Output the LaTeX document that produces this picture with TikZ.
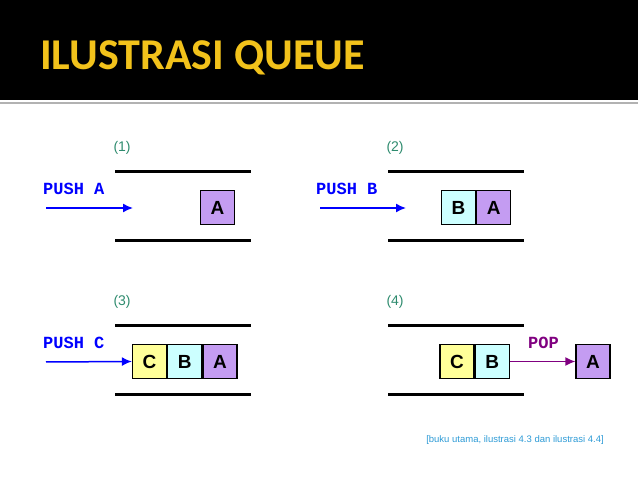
\documentclass[tikz,border=0pt]{standalone}
\usepackage{fontspec}
\setmainfont{Liberation Sans}
\setmonofont{Liberation Mono}
\newfontfamily\titlefont{Carlito}
\usetikzlibrary{positioning, arrows.meta}
\definecolor{titlegold}{HTML}{F2C21B}
\definecolor{stepgreen}{HTML}{2E8B6E}
\definecolor{cellpurple}{HTML}{C49CF2}
\definecolor{cellcyan}{HTML}{CCFFFF}
\definecolor{cellyellow}{HTML}{FFFF99}
\definecolor{poppurple}{HTML}{800080}
\definecolor{notecyan}{HTML}{2E9BD6}
\tikzset{
  cell/.style={draw=black, line width=1.3pt, minimum size=34pt, inner sep=0pt, font=\fontsize{19}{19}\selectfont\bfseries},
  rail/.style={line width=3pt},
  steplabel/.style={text=stepgreen, font=\fontsize{14}{14}\selectfont, anchor=west},
  cmd/.style={text=blue, font=\ttfamily\bfseries\fontsize{17}{17}\selectfont, anchor=west, inner sep=0pt},
  pusharrow/.style={blue, line width=1.5pt, -{Latex[length=10pt,width=9pt]}}
}
\begin{document}
\begin{tikzpicture}[x=1pt, y=-1pt]
  \useasboundingbox (0,0) rectangle (638,478);
  \fill[black] (0,0) rectangle (638,100);
  \fill[gray!60] (0,102) rectangle (638,104);
  \node[anchor=base west, text=titlegold, font=\titlefont\bfseries\fontsize{44}{44}\selectfont, inner sep=0pt] (title) at (40,70) {ILUSTRASI QUEUE};

  % (1)
  \node[steplabel] (l1) at (110,148) {(1)};
  \draw[rail] (115,172) -- (251,172);
  \draw[rail] (115,241) -- (251,241);
  \node[cmd] (cmd1) at (43,189) {PUSH A};
  \coordinate (s1) at (46,208);
  \coordinate (e1) at (133,208);
  \draw[pusharrow] (s1) -- (e1);
  \node[cell, fill=cellpurple] (a1) at (217.5,207.5) {A};

  % (2)
  \node[steplabel] (l2) at (383,148) {(2)};
  \draw[rail] (388,172) -- (524,172);
  \draw[rail] (388,241) -- (524,241);
  \node[cmd] (cmd2) at (316,189) {PUSH B};
  \coordinate (s2) at (320,208);
  \coordinate (e2) at (406,208);
  \draw[pusharrow] (s2) -- (e2);
  \node[cell, fill=cellcyan] (b2) at (458.5,207.5) {B};
  \node[cell, fill=cellpurple, right=0pt of b2] (a2) {A};

  % (3)
  \node[steplabel] (l3) at (110,302) {(3)};
  \draw[rail] (115,326) -- (251,326);
  \draw[rail] (115,395) -- (251,395);
  \node[cmd] (cmd3) at (43,343) {PUSH C};
  \coordinate (s3) at (46,362);
  \node[cell, fill=cellyellow] (c3) at (149.5,361.5) {C};
  \node[cell, fill=cellcyan, right=0pt of c3] (b3) {B};
  \node[cell, fill=cellpurple, right=0pt of b3] (a3) {A};
  \draw[pusharrow] (s3) -- (c3.west);

  % (4)
  \node[steplabel] (l4) at (383,302) {(4)};
  \draw[rail] (388,326) -- (524,326);
  \draw[rail] (388,395) -- (524,395);
  \node[cell, fill=cellyellow] (c4) at (457,361.5) {C};
  \node[cell, fill=cellcyan, right=0pt of c4] (b4) {B};
  \node[cell, fill=cellpurple] (a4) at (593,361.5) {A};
  \draw[poppurple, line width=1.5pt, -{Latex[length=10pt,width=9pt]}] (b4.east) -- (a4.west);
  \node[cmd, text=poppurple] (pop) at (528,343) {POP};

  \node[text=notecyan, font=\fontsize{9.5}{9.5}\selectfont] (note) at (515,440) {[buku utama, ilustrasi 4.3 dan ilustrasi 4.4]};
\end{tikzpicture}
\end{document}
